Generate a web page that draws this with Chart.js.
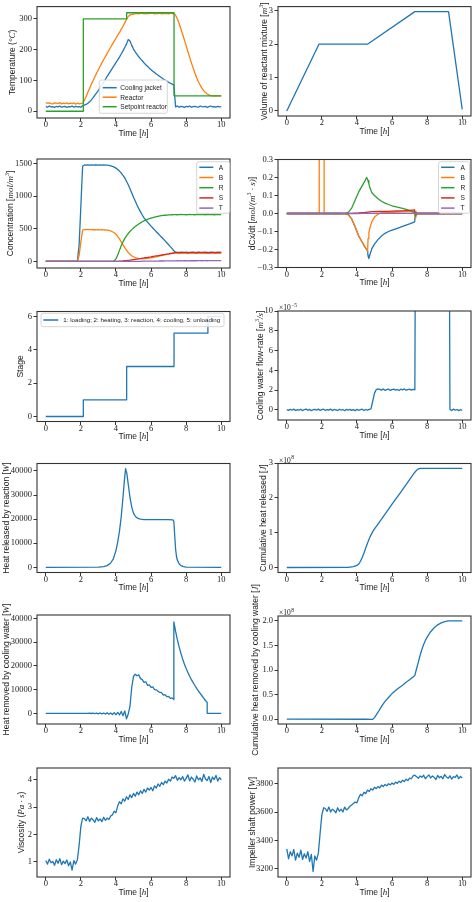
<!DOCTYPE html>
<html><head><meta charset="utf-8">
<script src="https://cdn.jsdelivr.net/npm/chart.js@4.4.0/dist/chart.umd.min.js"></script>
<style>
html,body{margin:0;padding:0;background:#fff;}
#fig{position:relative;width:474px;height:902px;overflow:hidden;background:#fff;}
#fig canvas{position:absolute;left:0;top:0;}
</style></head><body><div id="fig"></div>
<script>
// ---------- DATA ----------
const t01 = [0,0.1,0.2,0.3,0.4,0.5,0.6,0.7,0.8,0.9,
 1,1.1,1.2,1.3,1.4,1.5,1.6,1.7,1.8,1.9,
 2,2.1,2.2,2.3,2.4,2.5,2.6,2.7,2.8,2.9,
 3,3.1,3.2,3.3,3.4,3.5,3.6,3.7,3.8,3.9,
 4,4.1,4.2,4.3,4.4,4.5,4.6,4.7,4.8,4.9,
 5,5.1,5.2,5.3,5.4,5.5,5.6,5.7,5.8,5.9,
 6,6.1,6.2,6.3,6.4,6.5,6.6,6.7,6.8,6.9,
 7,7.1,7.2,7.3,7.4,7.5,7.6,7.7,7.8,7.9,
 8,8.1,8.2,8.3,8.4,8.5,8.6,8.7,8.8,8.9,
 9,9.1,9.2,9.3,9.4,9.5,9.6,9.7,9.8,9.9,
 10];
const xTicks = [0,2,4,6,8,10];

// Panel 1: temperatures
const jacketTemp = [16,13,17,14,15,12,16,14,17,13,
 15,16,12,15,14,17,13,16,14,15,
 13,18,20,22,26,31,37,44,52,60,
 68,77,86,95,104,113,122,131,140,149,
 158,167,176,186,196,207,218,233,228,214,
 202,193,185,177,170,164,157,151,146,140,
 135,130,126,121,117,113,109,105,101,98,
 94,91,88,85,14,17,13,16,15,12,
 16,14,17,13,15,16,14,13,17,15,
 14,16,12,15,17,14,15,13,16,14,
 15];
const reactorTemp = [28,26,27,25,24,27,26,25,28,24,
 26,25,27,24,26,25,27,23,26,24,
 25,26,35,48,62,75,88,100,112,124,
 135,146,157,168,178,188,198,208,218,228,
 237,247,256,266,276,287,298,308,313,315,
 316,317,318,316,319,317,318,316,318,317,
 319,318,316,318,317,319,316,318,317,318,
 316,319,317,318,312,300,285,268,250,232,
 213,194,175,157,140,124,109,96,85,75,
 67,61,56,53,51,50,50,49,51,50,
 50];
const spTime = [0,2.14,2.14,4.61,4.61,7.31,7.31,10];
const setpoint = [0,0,300,300,320,320,50,50];
const tempTicks = [0,100,200,300];

// Panel 2: volume
const volTime = [0,1.84,4.62,7.3,9.22,10];
const volume = [0,2,2,2.97,2.97,0.05];
const volTicks = [0,1,2,3];

// Panel 3: concentrations
const concA = [0,0,0,0,0,0,0,0,0,0,
 0,0,0,0,0,0,0,0,0,250,
 850,1460,1478,1476,1480,1477,1479,1476,1478,1480,
 1477,1479,1476,1478,1477,1475,1472,1466,1456,1445,
 1430,1410,1385,1355,1320,1280,1230,1175,1115,1050,
 985,925,865,810,760,712,668,636,604,572,
 541,512,484,456,428,400,372,344,315,286,
 257,227,196,165,140,139,140,141,139,140,
 141,139,140,140,141,139,140,141,140,139,
 140,141,139,140,141,140,139,140,141,140,
 140];
const concB = [0,0,0,0,0,0,0,0,0,0,
 0,0,0,0,0,0,0,0,0,90,
 300,480,490,488,491,487,489,486,488,485,
 487,484,486,483,482,480,476,468,455,440,
 418,385,345,300,255,212,172,138,110,88,
 72,60,52,47,44,43,43,45,48,52,
 56,61,66,72,78,84,90,96,102,108,
 114,119,124,128,127,129,126,128,130,127,
 128,126,129,127,128,130,126,128,127,129,
 127,128,126,129,128,127,130,126,128,127,
 128];
const concR = [0,0,0,0,0,0,0,0,0,0,
 0,0,0,0,0,0,0,0,0,0,
 0,0,0,0,0,0,0,0,0,0,
 0,0,0,0,0,0,0,0,0,8,
 40,100,170,240,300,350,392,428,460,488,
 512,535,556,575,592,608,622,635,646,656,
 665,673,680,686,692,697,701,705,708,711,
 713,715,716,717,719,716,718,720,717,719,
 716,718,721,717,719,716,720,718,717,719,
 718,716,720,717,719,718,716,719,717,718,
 718];
const concS = [0,0,0,0,0,0,0,0,0,0,
 0,0,0,0,0,0,0,0,0,0,
 0,0,0,0,0,0,0,0,0,0,
 0,0,0,0,0,0,0,0,0,0,
 0,2,4,6,8,11,14,17,20,24,
 28,32,36,41,45,50,54,59,63,68,
 72,77,81,86,90,95,99,104,108,113,
 117,122,126,131,135,138,133,136,139,134,
 137,132,136,139,134,137,133,138,135,136,
 139,134,137,133,136,138,134,137,135,138,
 135];
const concT = [0,0,0,0,0,0,0,0,0,0,
 0,0,0,0,0,0,0,0,0,0,
 0,0,0,0,0,0,0,0,0,0,
 0,0,0,0,0,0,0,0,0,0,
 0,0,0,0,0,1,1,1,1,2,
 2,2,3,3,3,4,4,4,5,5,
 5,5,6,6,6,7,7,7,8,8,
 8,9,9,10,10,11,10,11,10,11,
 11,10,11,12,11,12,11,12,12,11,
 12,12,11,12,13,12,12,13,12,13,
 13];
const concTicks = [0,500,1000,1500];

// Panel 4: derivatives
const dTime = [0,1.84,1.85,2.12,2.13,3.0,3.3,3.5,3.7,3.9,4.1,4.3,4.45,4.55,4.61,4.63,4.68,4.75,4.85,5.0,5.2,5.4,5.6,5.8,6.0,6.3,6.6,7.0,7.29,7.31,7.34,7.38,7.45,10];
const dA = [0,0,0,0,0,0,-0.001,-0.006,-0.03,-0.075,-0.125,-0.16,-0.185,-0.2,-0.21,-0.235,-0.25,-0.225,-0.195,-0.17,-0.145,-0.125,-0.11,-0.1,-0.092,-0.082,-0.072,-0.058,-0.046,-0.02,0,0,0,0];
const dB = [0,0,5,5,0,0,-0.001,-0.006,-0.03,-0.075,-0.125,-0.16,-0.185,-0.2,-0.21,-0.14,-0.105,-0.075,-0.045,-0.02,-0.004,0.003,0.005,0.006,0.007,0.008,0.009,0.01,0.011,-0.02,-0.028,0.01,0,0];
const dR = [0,0,0,0,0,0,0.001,0.006,0.03,0.075,0.12,0.155,0.18,0.2,0.19,0.182,0.165,0.14,0.115,0.1,0.082,0.068,0.058,0.05,0.043,0.035,0.028,0.017,0.004,-0.01,-0.015,-0.005,0,0];
const dS = [0,0,0,0,0,0,0,0,0.001,0.002,0.003,0.005,0.006,0.007,0.008,0.008,0.009,0.009,0.01,0.01,0.011,0.011,0.012,0.012,0.013,0.014,0.015,0.017,0.02,0.005,0,0,0,0];
const dT = [0,0,0,0,0,0,0,0,0,0,0,0.0005,0.001,0.001,0.001,0.001,0.001,0.001,0.001,0.001,0.001,0.001,0.001,0.001,0.001,0.001,0.001,0.001,0.0015,0,0,0,0,0];
const dTicks = [-0.3,-0.2,-0.1,0,0.1,0.2,0.3];

// Panel 5: stage
const stTime = [0,2.14,2.14,4.61,4.61,7.31,7.31,9.24,9.24,10];
const stage = [0,0,1,1,3,3,5,5,6,6];
const stageTicks = [0,2,4,6];

// Panel 6: cooling water flow (x 1e-5 m3/s)
const flow = [0.02,-0.05,0.06,-0.03,0.08,-0.06,0.03,-0.02,0.07,-0.08,
 0.04,0.09,-0.04,0.05,-0.07,0.02,0.06,-0.03,0.1,-0.05,
 0.03,0.07,-0.06,0.04,-0.02,0.08,-0.07,0.05,0.01,-0.06,
 0.07,-0.03,0.04,-0.08,0.06,-0.02,0.05,-0.05,0.03,-0.09,
 0.06,-0.04,0.02,0.07,-0.06,0.04,-0.03,0.05,0.1,0.9,
 1.7,2.05,2.12,2.08,2.0,2.12,1.98,2.06,2.1,1.97,
 2.05,2.11,2.0,2.07,1.96,2.09,2.03,2.12,1.99,2.06,
 2.1,2.0,2.08,2.04,50,50,50,50,50,50,
 50,50,50,50,50,50,50,50,50,50,
 50,50,50,0.05,-0.06,0.08,-0.03,0.04,-0.07,0.02,
 -0.04];
const flowTicks = [0,2,4,6,8,10];

// Panel 7: heat released by reaction (W)
const qTime = [0,3.0,3.3,3.5,3.7,3.85,4.0,4.1,4.2,4.3,4.4,4.48,4.55,4.62,4.7,4.8,4.9,5.0,5.1,5.25,5.4,5.6,6.0,6.5,7.0,7.25,7.3,7.35,7.4,7.45,7.5,7.6,7.7,7.85,8.0,10];
const qReleased = [0,50,250,700,1800,3500,7000,10500,15000,21000,29000,36000,41000,39000,34500,29000,25000,22500,21200,20300,20000,19800,19800,19800,19800,19700,19000,13000,7500,4500,3000,1500,700,250,80,0];
const qTicks = [0,10000,20000,30000,40000];

// Panel 8: cumulative heat released (x 1e8 J)
const cTime = [0,3.5,3.8,4.0,4.1,4.2,4.3,4.4,4.5,4.6,4.7,4.8,4.9,5.0,5.2,5.5,6.0,6.5,7.0,7.3,7.45,7.6,10];
const cumReleased = [0,0.005,0.025,0.06,0.1,0.18,0.29,0.42,0.56,0.7,0.83,0.94,1.03,1.11,1.25,1.46,1.82,2.17,2.53,2.74,2.82,2.85,2.85];
const cumTicks = [0,1,2,3];

// Panel 9: heat removed by cooling water (W)
const hrTime = [0,2.4,2.5,2.6,2.7,2.8,2.9,
 3.0,3.1,3.2,3.3,3.4,3.5,3.6,3.7,3.8,3.9,
 4.0,4.1,4.2,4.3,4.4,4.5,4.6,4.7,4.8,4.9,
 5.0,5.1,5.2,5.3,5.4,5.5,5.6,5.7,5.8,5.9,
 6.0,6.1,6.2,6.3,6.4,6.5,6.6,6.7,6.8,6.9,
 7.0,7.1,7.2,7.3,
 7.3,7.4,7.5,7.6,7.7,7.8,7.9,
 8.0,8.1,8.2,8.3,8.4,8.5,8.6,8.7,8.8,8.9,
 9.0,9.1,9.2,9.2,10];
const heatRemoved = [0,0,50,-80,100,-120,60,
 -200,150,-250,100,-300,200,-400,150,-500,300,
 -600,400,-700,800,-1000,1000,-2300,-300,3000,11000,
 15500,16500,15800,16200,14600,14200,13000,13300,11800,12000,
 10900,11100,10000,9900,9300,8800,8700,7700,7900,7000,
 7100,6300,6500,5800,
 38500,34500,31000,28000,25300,22900,20800,
 18900,17200,15600,14200,12900,11700,10500,9400,8400,7400,
 6400,5400,4600,0,0];
const hrTicks = [0,10000,20000,30000,40000];

// Panel 10: cumulative heat removed (x 1e8 J)
const crTime = [0,4.5,4.85,4.9,5.0,5.2,5.4,5.6,5.8,6.0,6.2,6.4,6.6,6.8,7.0,7.3,7.4,7.5,7.6,7.7,7.8,7.9,8.0,8.2,8.4,8.6,8.8,9.0,9.2,10];
const cumRemoved = [0,-0.003,-0.006,-0.003,0.03,0.14,0.26,0.36,0.44,0.52,0.58,0.64,0.69,0.75,0.8,0.89,1.03,1.16,1.3,1.42,1.52,1.6,1.67,1.78,1.86,1.92,1.96,1.985,2.0,2.0];
const crTicks = [0,0.5,1,1.5,2];

// Panel 11: viscosity
const viscosity = [1.05,0.92,1.1,0.97,1.02,0.88,1.08,0.95,1.12,0.9,
 1.03,0.94,1.07,0.86,1.0,0.7,1.05,0.92,1.08,1.6,
 2.3,2.6,2.58,2.5,2.65,2.48,2.6,2.53,2.45,2.62,
 2.5,2.57,2.47,2.63,2.52,2.6,2.55,2.68,2.72,2.85,
 2.8,3.05,3.2,3.12,3.3,3.22,3.38,3.28,3.45,3.35,
 3.5,3.4,3.55,3.45,3.6,3.5,3.65,3.55,3.7,3.62,
 3.72,3.6,3.78,3.7,3.85,3.76,3.9,3.82,3.95,3.88,
 4.02,3.95,4.1,4.05,4.15,3.98,4.08,4.0,4.12,3.95,
 4.05,4.18,3.96,4.1,4.02,3.92,4.14,4.0,4.07,3.94,
 4.2,4.03,3.97,4.12,3.9,4.1,4.01,4.16,3.95,4.08,
 4.0];
const viscTicks = [1,2,3,4];

// Panel 12: impeller shaft power
const power = [3340,3270,3320,3290,3335,3260,3310,3280,3330,3265,
 3305,3275,3320,3250,3300,3180,3290,3260,3310,3450,
 3580,3630,3625,3605,3635,3600,3620,3610,3595,3630,
 3605,3620,3600,3635,3615,3625,3640,3650,3660,3670,
 3665,3700,3725,3715,3740,3730,3755,3745,3765,3755,
 3775,3765,3780,3770,3790,3780,3795,3785,3800,3792,
 3805,3795,3812,3802,3818,3808,3825,3815,3832,3822,
 3840,3835,3855,3860,3850,3838,3855,3845,3860,3835,
 3850,3862,3840,3855,3845,3830,3858,3842,3852,3835,
 3865,3848,3838,3856,3832,3850,3844,3862,3836,3852,
 3840];
const powTicks = [3200,3400,3600,3800];

// Axis label texts: [text, style] segments (s = sans, i = math italic, sup = superscript)
const xLabel = [['Time [','s'],['h','i'],[']','s']];

// ---------- STYLE ----------
const COL = {blue:'#1f77b4', orange:'#ff7f0e', green:'#2ca02c', red:'#d62728', purple:'#9467bd'};
const TICK_FONT = {family:'"Liberation Serif", "DejaVu Serif", serif', size:8.5};
const SANS = '"Liberation Sans", Arial, sans-serif';
const SERIF = '"Liberation Serif", "DejaVu Serif", serif';
const LABEL_SIZE = 8.5;
const SPINE = '#333333';
const TEXT = '#1a1a1a';

function fmt(dec) {
  return v => (dec ? Number(v).toFixed(dec) : String(Math.round(v))).replace('-', '\u2212');
}

const Lc = {left:37, right:230}, Rc = {left:278, right:471};
const concLegend = [{label:'A',c:COL.blue},{label:'B',c:COL.orange},{label:'R',c:COL.green},{label:'S',c:COL.red},{label:'T',c:COL.purple}];

const panels = [
 {col:Lc, top:6, bottom:118, titleX:12.7, ylabel:[['Temperature (','s'],['°C','i'],[')','s']], ymin:-22, ymax:340, yticks:tempTicks, dec:0,
  series:[{x:t01,y:jacketTemp,c:COL.blue},{x:t01,y:reactorTemp,c:COL.orange},{x:spTime,y:setpoint,c:COL.green}],
  legend:{x:99.3,y:80,w:68,h:33.3,first:7.7,rowH:9.5,lineX:3.4,lineLen:14,textX:21,fs:6.6,
   items:[{label:'Cooling jacket',c:COL.blue},{label:'Reactor',c:COL.orange},{label:'Setpoint reactor',c:COL.green}]}},
 {col:Rc, top:6, bottom:116, titleX:264, ylabel:[['Volume of reactant mixture [','s'],['m','i'],['3','sup'],[']','s']], ymin:-0.15, ymax:3.12, yticks:volTicks, dec:0,
  series:[{x:volTime,y:volume,c:COL.blue}]},
 {col:Lc, top:159, bottom:268, titleX:10, ylabel:[['Concentration [','s'],['mol/m','i'],['3','sup'],[']','s']], ymin:-100, ymax:1570, yticks:concTicks, dec:0,
  series:[{x:t01,y:concA,c:COL.blue},{x:t01,y:concB,c:COL.orange},{x:t01,y:concR,c:COL.green},{x:t01,y:concS,c:COL.red},{x:t01,y:concT,c:COL.purple}],
  legend:{x:196.7,y:161.7,w:33,h:51.6,first:5.6,rowH:10.2,lineX:2.6,lineLen:14,textX:22,fs:6.6,items:concLegend}},
 {col:Rc, top:159.5, bottom:267.5, titleX:252.3, ylabel:[['dCx/dt [','s'],['mol/(m','i'],['3','sup'],[' · s)','i'],[']','s']], ymin:-0.3, ymax:0.3, yticks:dTicks, dec:1,
  series:[{x:dTime,y:dA,c:COL.blue},{x:dTime,y:dB,c:COL.orange},{x:dTime,y:dR,c:COL.green},{x:dTime,y:dS,c:COL.red},{x:dTime,y:dT,c:COL.purple}],
  legend:{x:438.5,y:161.7,w:31,h:51.6,first:5.6,rowH:10.2,lineX:2.6,lineLen:13.4,textX:22,fs:6.6,items:concLegend}},
 {col:Lc, top:311.5, bottom:421.5, titleX:20, ylabel:[['Stage','s']], ymin:-0.3, ymax:6.3, yticks:stageTicks, dec:0,
  series:[{x:stTime,y:stage,c:COL.blue}],
  legend:{x:41,y:313.3,w:183,h:13.4,first:6.7,rowH:10,lineX:2.3,lineLen:15,textX:22.3,fs:6.2,
   items:[{label:'1: loading; 2: heating, 3: reaction, 4: cooling, 5: unloading',c:COL.blue}]}},
 {col:Rc, top:311, bottom:420, titleX:260.7, ylabel:[['Cooling water flow-rate [','s'],['m','i'],['3','sup'],['/s','i'],[']','s']], ymin:-1.02, ymax:10, yticks:flowTicks, dec:0,
  series:[{x:t01,y:flow,c:COL.blue}], offset:'\u22125'},
 {col:Lc, top:463.5, bottom:572.5, titleX:6.7, ylabel:[['Heat released by reaction [','s'],['W','i'],[']','s']], ymin:-2150, ymax:43100, yticks:qTicks, dec:0,
  series:[{x:qTime,y:qReleased,c:COL.blue}]},
 {col:Rc, top:463.5, bottom:572.5, titleX:263.3, ylabel:[['Cumulative heat released [','s'],['J','i'],[']','s']], ymin:-0.143, ymax:2.99, yticks:cumTicks, dec:0,
  series:[{x:cTime,y:cumReleased,c:COL.blue}], offset:'8'},
 {col:Lc, top:615, bottom:724, titleX:6.7, ylabel:[['Heat removed by cooling water [','s'],['W','i'],[']','s']], ymin:-4500, ymax:41400, yticks:hrTicks, dec:0,
  series:[{x:hrTime,y:heatRemoved,c:COL.blue}]},
 {col:Rc, top:616, bottom:724, titleX:255.7, ylabel:[['Cumulative heat removed by cooling water [','s'],['J','i'],[']','s']], ymin:-0.1, ymax:2.1, yticks:crTicks, dec:1,
  series:[{x:crTime,y:cumRemoved,c:COL.blue}], offset:'8'},
 {col:Lc, top:768, bottom:877, titleX:21.7, ylabel:[['Viscosity (','s'],['Pa · s','i'],[')','s']], ymin:0.45, ymax:4.43, yticks:viscTicks, dec:0,
  series:[{x:t01,y:viscosity,c:COL.blue}]},
 {col:Rc, top:768, bottom:877, titleX:252.3, ylabel:[['Impeller shaft power [','s'],['W','i'],[']','s']], ymin:3141, ymax:3911, yticks:powTicks, dec:0,
  series:[{x:t01,y:power,c:COL.blue}]}
];

const framePlugin = {
  id:'frame',
  afterDraw(chart) {
    const {ctx, chartArea:a} = chart;
    ctx.save();
    ctx.strokeStyle = SPINE; ctx.lineWidth = 1.1;
    ctx.strokeRect(a.left, a.top, a.right - a.left, a.bottom - a.top);
    ctx.restore();
  }
};

function segFont(style) {
  if (style === 'i') return 'italic ' + (LABEL_SIZE + 0.5) + 'px ' + SERIF;
  if (style === 'sup') return (LABEL_SIZE - 2.5) + 'px ' + SERIF;
  return LABEL_SIZE + 'px ' + SANS;
}
function drawRich(ctx, segs, cx, cy, rot) {
  ctx.save();
  ctx.translate(cx, cy);
  if (rot) ctx.rotate(-Math.PI / 2);
  ctx.textBaseline = 'middle'; ctx.textAlign = 'left'; ctx.fillStyle = TEXT;
  let total = 0;
  const widths = segs.map(s => { ctx.font = segFont(s[1]); const w = ctx.measureText(s[0]).width; total += w; return w; });
  let x = -total / 2;
  segs.forEach((s, i) => {
    ctx.font = segFont(s[1]);
    ctx.fillText(s[0], x, s[1] === 'sup' ? -3 : 0.3);
    x += widths[i];
  });
  ctx.restore();
}

function makeTitles(p) {
  return { id:'richTitles', afterDraw(chart) {
    const {ctx, chartArea:a} = chart;
    drawRich(ctx, xLabel, (a.left + a.right) / 2, a.bottom + 15.3, false);
    drawRich(ctx, p.ylabel, p.titleX, (a.top + a.bottom) / 2, true);
  }};
}

function makeLegend(o) {
  return { id:'boxLegend', afterDraw(chart) {
    if (!o) return;
    const ctx = chart.ctx;
    ctx.save();
    ctx.beginPath();
    if (ctx.roundRect) ctx.roundRect(o.x, o.y, o.w, o.h, 2); else ctx.rect(o.x, o.y, o.w, o.h);
    ctx.fillStyle = 'rgba(255,255,255,0.85)'; ctx.fill();
    ctx.strokeStyle = '#cccccc'; ctx.lineWidth = 0.8; ctx.stroke();
    ctx.font = o.fs + 'px ' + SANS;
    ctx.textBaseline = 'middle'; ctx.textAlign = 'left';
    o.items.forEach((it, i) => {
      const cy = o.y + o.first + i * o.rowH;
      ctx.beginPath(); ctx.moveTo(o.x + o.lineX, cy); ctx.lineTo(o.x + o.lineX + o.lineLen, cy);
      ctx.strokeStyle = it.c; ctx.lineWidth = 1.5; ctx.stroke();
      ctx.fillStyle = TEXT; ctx.fillText(it.label, o.x + o.textX, cy + 0.5);
    });
    ctx.restore();
  }};
}

function makeOffset(exp) {
  return { id:'offsetText', afterDraw(chart) {
    if (!exp) return;
    const {ctx, chartArea:a} = chart;
    ctx.save();
    ctx.fillStyle = TEXT; ctx.textBaseline = 'alphabetic'; ctx.textAlign = 'left';
    ctx.font = '7.5px ' + SERIF;
    const base = '\u00d710';
    ctx.fillText(base, a.left + 1, a.top - 1);
    const w = ctx.measureText(base).width;
    ctx.font = '5.5px ' + SERIF;
    ctx.fillText(exp, a.left + 1 + w + 0.5, a.top - 4.5);
    ctx.restore();
  }};
}

const fig = document.getElementById('fig');
const XH = 21;

panels.forEach(p => {
  const cv = document.createElement('canvas');
  cv.width = 474; cv.height = 902;
  cv.style.width = '474px'; cv.style.height = '902px';
  fig.appendChild(cv);
  const lh = LABEL_SIZE * 1.2;
  const yW = p.col.left - (p.titleX - lh / 2);
  const datasets = p.series.map((s, i) => ({
    data: s.x.map((x, j) => ({x: x, y: s.y[j]})),
    borderColor: s.c, backgroundColor: s.c, borderWidth: 1.3,
    pointRadius: 0, fill: false, tension: 0, order: -i,
    borderJoinStyle: 'round'
  }));
  const grid = {drawOnChartArea:false, drawTicks:true, tickLength:3.5, color:SPINE, lineWidth:1};
  new Chart(cv, {
    type: 'line',
    data: {datasets},
    options: {
      responsive:false, animation:false, devicePixelRatio:1, events:[],
      layout: {padding: {left: p.col.left - yW, right: 474 - p.col.right, top: p.top, bottom: 902 - p.bottom - XH}},
      plugins: {legend:{display:false}, tooltip:{enabled:false}},
      scales: {
        x: {type:'linear', min:-0.5, max:10.5,
            afterFit: s => { s.height = XH; },
            afterBuildTicks: s => { s.ticks = xTicks.map(v => ({value:v})); },
            ticks: {font:TICK_FONT, color:TEXT, padding:-1.5, maxRotation:0, autoSkip:false, callback: fmt(0)},
            grid: grid, border: {display:false}, title: {display:false}},
        y: {type:'linear', min:p.ymin, max:p.ymax,
            afterFit: s => { s.width = yW; },
            afterBuildTicks: s => { s.ticks = p.yticks.map(v => ({value:v})); },
            ticks: {font:TICK_FONT, color:TEXT, padding:1.5, autoSkip:false, callback: fmt(p.dec)},
            grid: grid, border: {display:false}, title: {display:false}}
      }
    },
    plugins: [framePlugin, makeTitles(p), makeLegend(p.legend), makeOffset(p.offset)]
  });
});
</script>
</body></html>
